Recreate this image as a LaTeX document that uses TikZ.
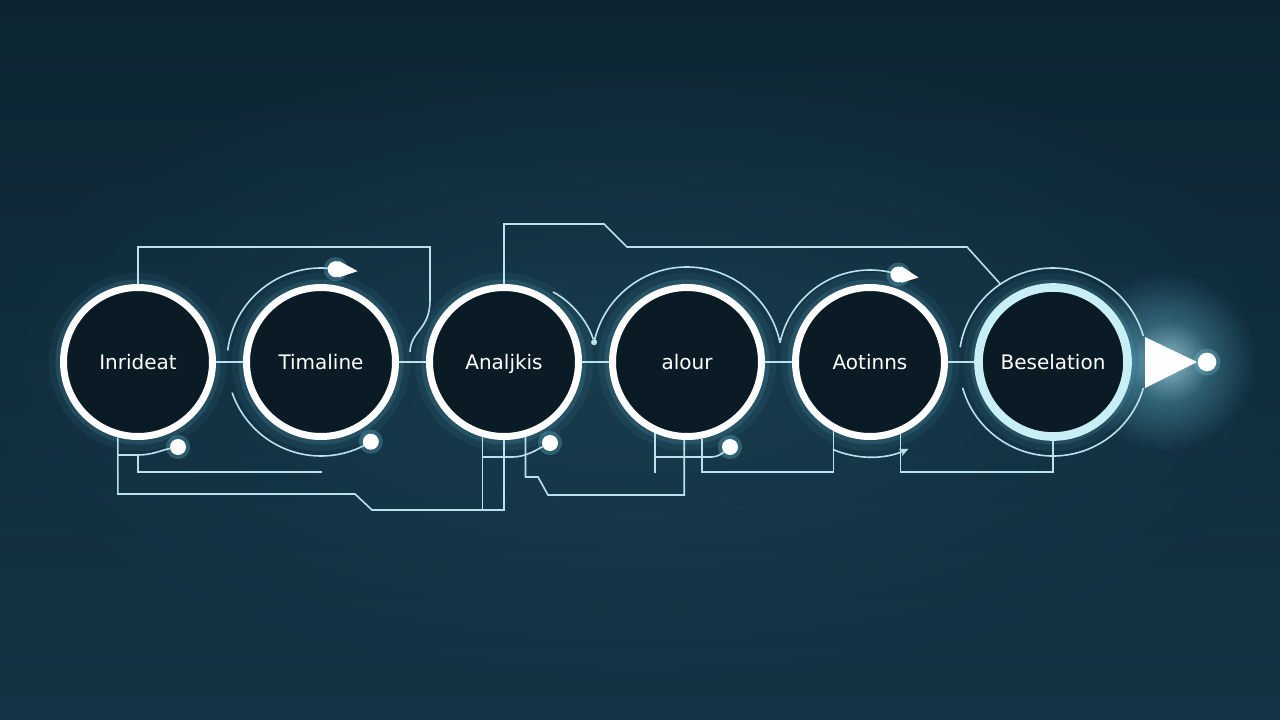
\documentclass[tikz,border=0pt]{standalone}
\usepackage{fontspec}
\setmainfont{DejaVu Sans}
\usepackage{tikz}
\usetikzlibrary{arrows.meta, fadings}
\usepackage{xcolor}

\definecolor{bgtop}{RGB}{13,37,51}
\definecolor{bgbottom}{RGB}{19,52,68}
\definecolor{bgmid}{RGB}{26,64,82}
\definecolor{wirec}{RGB}{186,226,236}
\definecolor{glowc}{RGB}{120,215,240}
\definecolor{holec}{RGB}{10,27,38}
\definecolor{ringlast}{RGB}{200,238,246}

\tikzfading[name=glowfade, inner color=transparent!0, outer color=transparent!100]

\tikzset{
  stage/.style={circle, draw=white, line width=5.25pt, fill=holec, minimum size=111.75pt, inner sep=0pt,
    text=white, font=\fontsize{15}{18}\selectfont, text height=11pt, text depth=0pt,
    preaction={draw=glowc, draw opacity=.06, line width=22pt},
    preaction={draw=glowc, draw opacity=.12, line width=12pt}},
  wire/.style={draw=wirec, line width=1.2pt},
  spark/.style={circle, fill=white, inner sep=0pt, minimum size=12pt,
    preaction={draw=glowc, draw opacity=.25, line width=6pt}},
  knob/.style={circle, fill=wirec, inner sep=0pt, minimum size=4.5pt},
}

\begin{document}
\begin{tikzpicture}[x=0.75pt,y=0.75pt,yscale=-1,xscale=1]
%Shape: Rectangle (background)
\shade [top color=bgtop, bottom color=bgbottom] (0,0) rectangle (1280,720);
\useasboundingbox (0,0) rectangle (1280,720);
\fill [bgmid, opacity=.8, path fading=glowfade] (640,370) ellipse [x radius=700, y radius=330];

%Shape: Glow behind the end
\fill [glowc, opacity=.55, path fading=glowfade] (1165,362) circle [radius=90];
\fill [white, opacity=.35, path fading=glowfade] (1170,362) circle [radius=40];

%Shape: Circle
\draw (138,362) node [stage] (inc) {Inrideat};
%Shape: Circle
\draw (321,362) node [stage] (tim) {Timaline};
%Shape: Circle
\draw (504,362) node [stage] (ana) {Analjkis};
%Shape: Circle
\draw (687,362) node [stage] (alo) {alour};
%Shape: Circle
\draw (870,362) node [stage] (aot) {Aotinns};
%Shape: Circle
\draw (1053,362) node [stage, draw=ringlast, line width=6.5pt] (bes) {Beselation};

% Dots
\draw (178,447) node [spark] (dotA) {};
\draw (550,443) node [spark] (dotD) {};
\draw (730,447) node [spark] (dotF) {};
\draw (1207,362) node [spark, minimum size=14pt] (dotG) {};
\draw ([shift={(-168:95)}]alo.center) node [knob] (knobA) {};
\coordinate (timR) at (410,352);

%Straight Lines
\draw [wire] (inc) -- (tim);
\draw [wire] (tim) -- (ana);
\draw [wire] (ana) -- (alo);
\draw [wire] (alo) -- (aot);
\draw [wire] (aot) -- (bes);

%Straight Lines
\draw [wire] (inc.north) -- (inc.north |- 0,247) -- (430,247) -- (430,300) .. controls (430,330) and (411,330) .. (timR);
%Straight Lines
\draw [wire] (inc.-105) -- (inc.-105 |- 0,494) -- (355,494) -- (372,510) -- (ana.south |- 0,510) -- (ana.south);
%Curve Lines
\draw [wire] (inc.-105 |- 0,455) -- (138,455) .. controls (152,455) and (162,450) .. (dotA);
%Straight Lines
\draw [wire] (138,455) -- (138,472) -- (322,472);

%Curve Lines
\draw [wire] ([shift={(-173:94)}]tim.center) arc [start angle=-173, end angle=-81, radius=94] node [spark] (dotB) {};
\fill [white] (dotB.70) -- ([shift={(22,2)}]dotB.center) -- (dotB.-70) -- cycle;
%Curve Lines
\draw [wire] ([shift={(-199:94)}]tim.center) arc [start angle=-199, end angle=-302, radius=94] node [spark] (dotC) {};

%Straight Lines
\draw [wire] (ana.north) -- (ana.north |- 0,224) -- (604,224) -- (627,247) -- (967,247) -- ([shift={(-124:94)}]bes.center);
%Curve Lines
\draw [wire] (553,292) .. controls (572,302) and (588,322) .. (knobA);
%Straight Lines
\draw [wire] (ana.-106) -- (ana.-106 |- 0,510);
%Curve Lines
\draw [wire] (ana.-106 |- 0,457) -- (512,457) .. controls (526,457) and (536,450) .. (dotD);
%Straight Lines
\draw [wire] (ana.-74) -- (ana.-74 |- 0,477) -- (538,477) -- (548,495) -- (alo.-92 |- 0,495) -- (alo.-92);

%Curve Lines
\draw [wire] (knobA.center) arc [start angle=-168, end angle=-12, radius=95];
%Straight Lines
\draw [wire] (alo.-114) -- (alo.-114 |- 0,473);
%Curve Lines
\draw [wire] (alo.-114 |- 0,457) -- (712,457) .. controls (718,457) and (724,452) .. (dotF);
%Straight Lines
\draw [wire] (alo.-79) -- (alo.-79 |- 0,472) -- (aot.-118 |- 0,472) -- (aot.-118);

%Curve Lines
\draw [wire] ([shift={(-168:92)}]aot.center) arc [start angle=-168, end angle=-72, radius=92] node [spark] (dotE) {};
\fill [white] (dotE.70) -- ([shift={(20,3)}]dotE.center) -- (dotE.-70) -- cycle;
%Curve Lines
\draw [wire, -{Stealth[length=7pt, width=6pt]}] ([shift={(113:95)}]aot.center) arc [start angle=113, end angle=66, radius=95];
%Straight Lines
\draw [wire] (aot.-67) -- (aot.-67 |- 0,472) -- (bes.south |- 0,472) -- (bes.south);

%Curve Lines
\draw [wire] ([shift={(-171:94)}]bes.center) arc [start angle=-171, end angle=-16, radius=94];
\draw [wire] ([shift={(-196:94)}]bes.center) arc [start angle=-196, end angle=-344, radius=94];

%Shape: Triangle
\fill [white] (1145,337) -- (1197,362) -- (1145,388) -- cycle;

\end{tikzpicture}
\end{document}
